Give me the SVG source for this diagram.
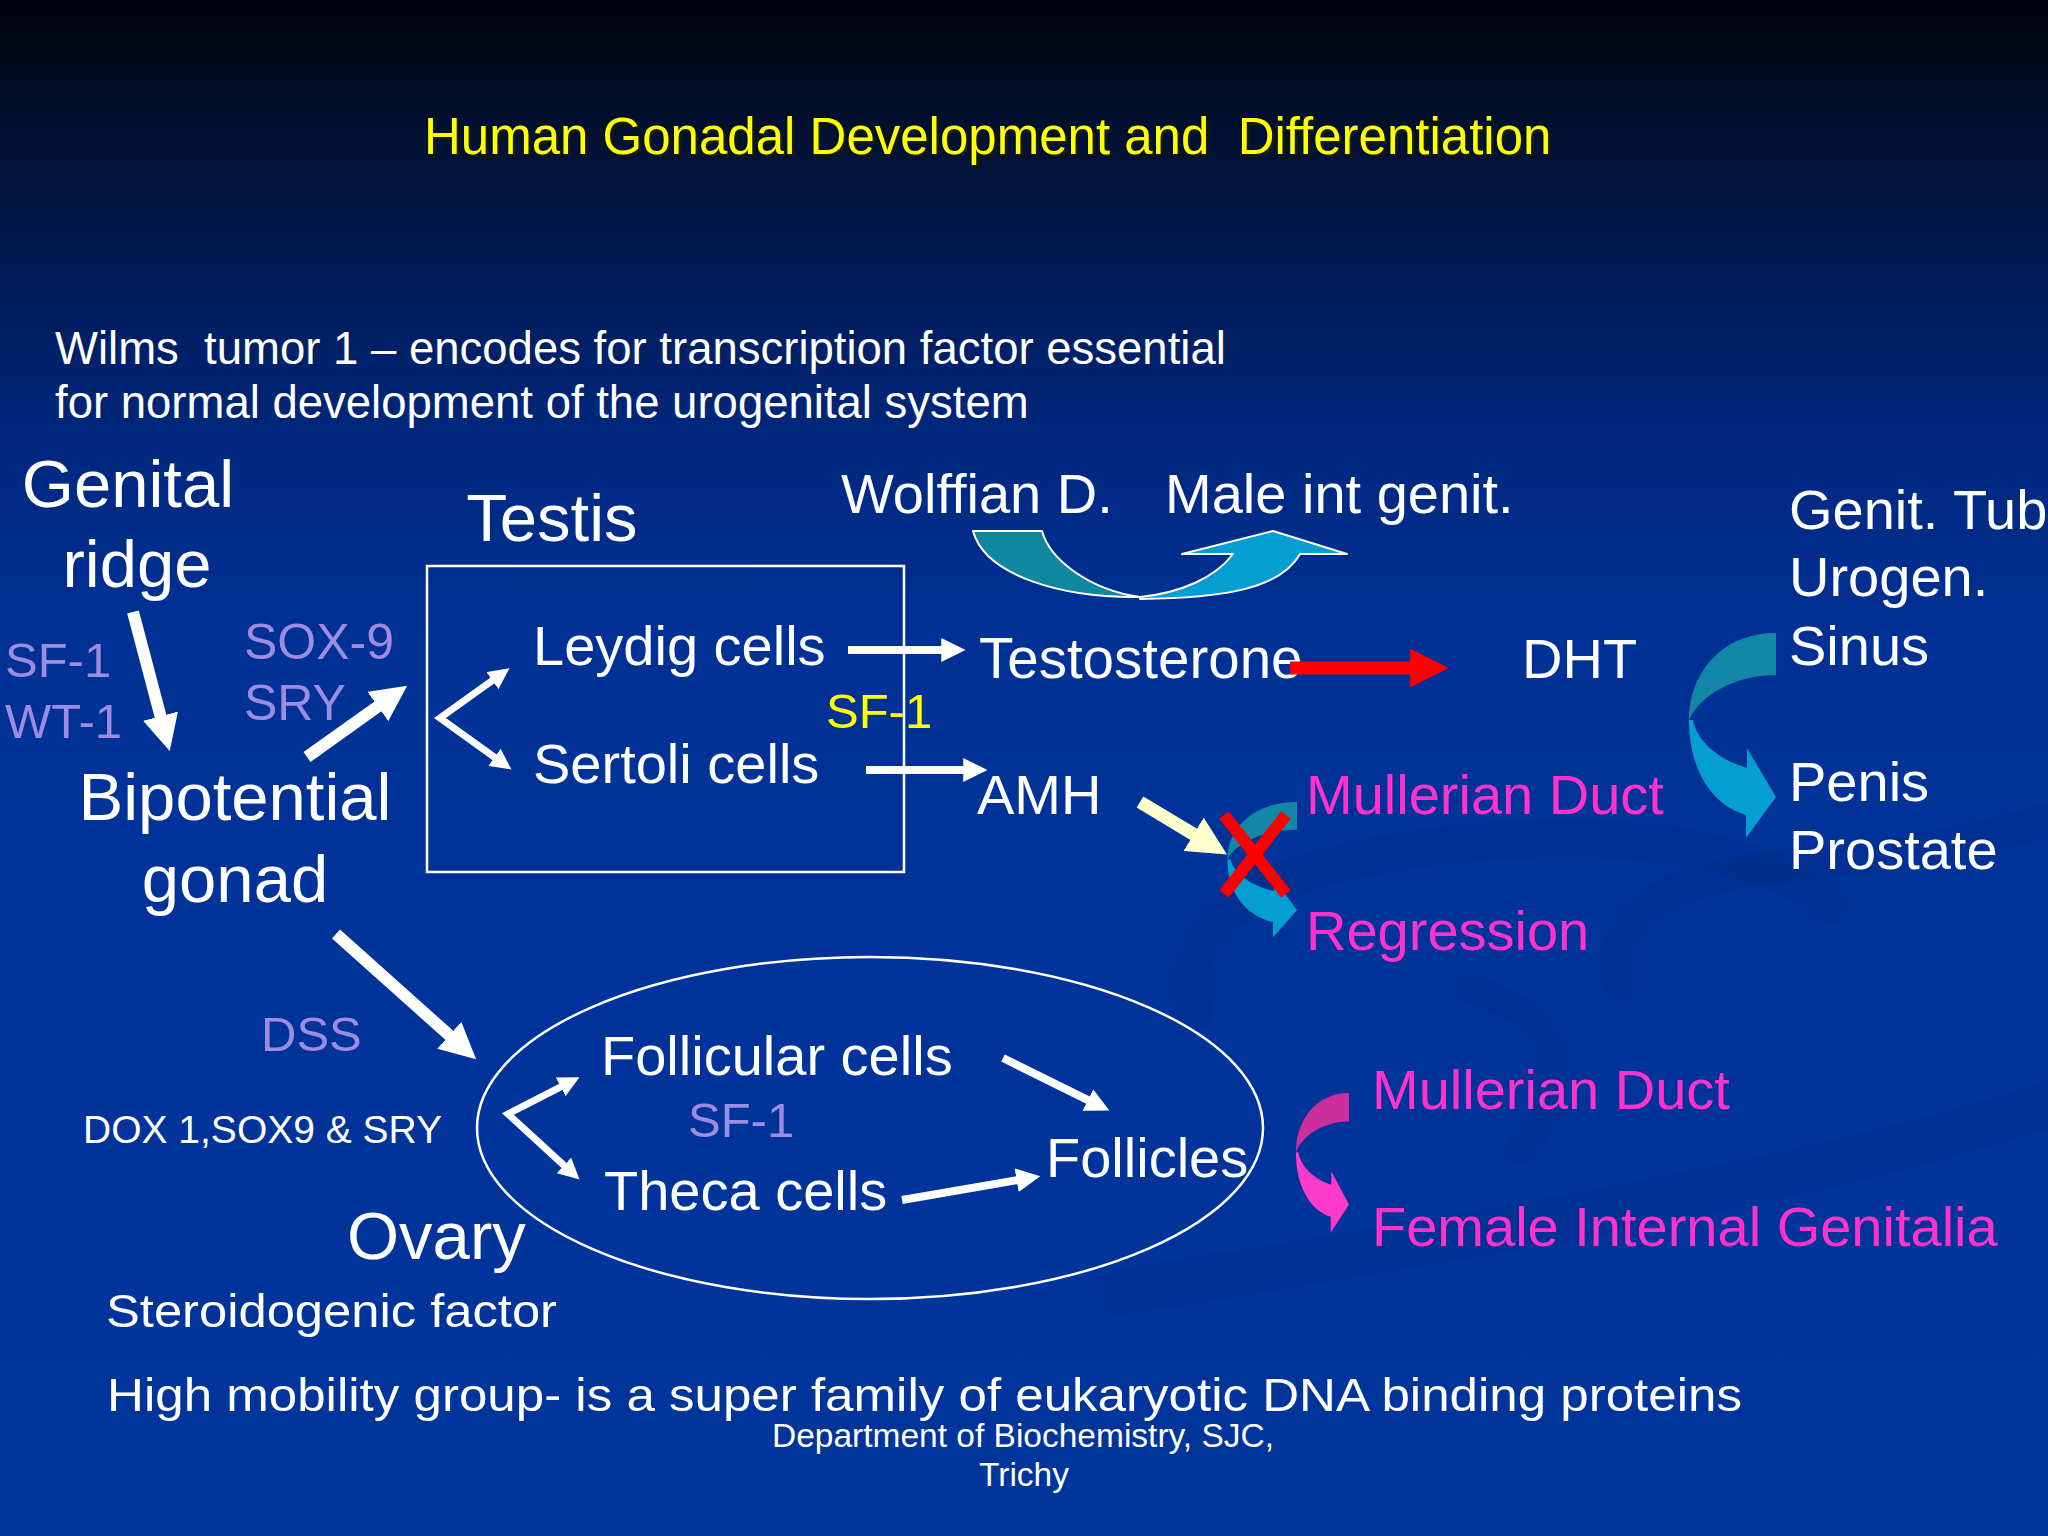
<svg xmlns="http://www.w3.org/2000/svg" width="2048" height="1536" viewBox="0 0 2048 1536">
<defs>
<linearGradient id="bg" x1="0" y1="0" x2="0" y2="1">
<stop offset="0" stop-color="#00000c"/>
<stop offset="0.03" stop-color="#000616"/>
<stop offset="0.08" stop-color="#00102e"/>
<stop offset="0.18" stop-color="#001a55"/>
<stop offset="0.28" stop-color="#00277c"/>
<stop offset="0.40" stop-color="#003094"/>
<stop offset="0.55" stop-color="#003399"/>
<stop offset="1" stop-color="#00359c"/>
</linearGradient>
<marker id="aw" viewBox="0 0 10 10" refX="0.3" refY="5" markerWidth="3" markerHeight="3" orient="auto-start-reverse" markerUnits="strokeWidth"><path d="M0,0 L10,5 L0,10 z" fill="#ffffff"/></marker>
<marker id="ar" viewBox="0 0 10 10" refX="0.3" refY="5" markerWidth="3" markerHeight="3" orient="auto" markerUnits="strokeWidth"><path d="M0,0 L10,5 L0,10 z" fill="#ff0000"/></marker>
<marker id="ay" viewBox="0 0 10 10" refX="0.3" refY="5" markerWidth="3" markerHeight="3" orient="auto" markerUnits="strokeWidth"><path d="M0,0 L10,5 L0,10 z" fill="#ffffcc"/></marker>
<g id="curvedArrow">
<path style="fill:var(--back)" d="M0,0 C-56,0 -87,42 -87,87 C-76,62 -41,42 0,42 Z"/>
<path style="fill:var(--front)" d="M-87,87 C-87,137 -64,172 -30,182 L-30,205 L0,164 L-29,115 L-29,135 C-56,127 -79,109 -83,87 Z"/>
</g>
<style>
text{font-family:"Liberation Sans",Arial,sans-serif}
.w{fill:#ffffff}
.lav{fill:#9d8ce0}
.mag{fill:#ff33cc}
.yel{fill:#ffff00}
.big{font-size:67px}
.mid{font-size:56px}
.lbl{font-size:49px}
.teal{--back:#1287a6;--front:#049fd0}
.pink{--back:#cc2e9e;--front:#ff3acb}
.sw{fill:none;stroke:#002378;stroke-linecap:round;opacity:0.16}
</style>
</defs>

<rect width="2048" height="1536" fill="url(#bg)"/>

<!-- decorative background swooshes -->
<g id="background-swooshes">
<path class="sw" stroke-width="38" d="M1195,1010 C1170,910 1280,860 1480,842 C1640,830 1760,850 1830,905"/>
<path class="sw" stroke-width="34" d="M1620,985 C1600,905 1690,872 1820,862 C1930,852 2000,835 2048,820"/>
<path class="sw" stroke-width="30" d="M1520,1150 C1580,1080 1560,1010 1470,990"/>
<path class="sw" stroke-width="46" d="M1120,1292 C1450,1240 1800,1185 2048,1105"/>
</g>

<g id="title">
<text x="427" y="157" font-size="51" fill="#1a1a00" opacity="0.8" xml:space="preserve">Human Gonadal Development and  Differentiation</text>
<text x="424" y="154" font-size="51" class="yel" xml:space="preserve">Human Gonadal Development and  Differentiation</text>
</g>

<g id="wilms-note">
<text x="55" y="364" font-size="45.5" class="w" xml:space="preserve">Wilms  tumor 1 – encodes for transcription factor essential</text>
<text x="55" y="418" font-size="45.5" class="w">for normal development of the urogenital system</text>
</g>

<g id="genital-ridge">
<text x="128" y="507" class="w big" text-anchor="middle">Genital</text>
<text x="137" y="587" class="w big" text-anchor="middle">ridge</text>
</g>

<g id="sf1-wt1">
<text x="5" y="677" class="lav lbl">SF-1</text>
<text x="5" y="738" class="lav lbl">WT-1</text>
</g>

<g id="sox9-sry">
<text x="244" y="659" class="lav" font-size="50">SOX-9</text>
<text x="244" y="720" class="lav" font-size="50">SRY</text>
</g>

<g id="bipotential-gonad">
<text x="235" y="820" class="w big" text-anchor="middle">Bipotential</text>
<text x="235" y="902" class="w big" text-anchor="middle">gonad</text>
</g>

<g id="testis">
<text x="552" y="541" class="w big" text-anchor="middle">Testis</text>
<rect x="427" y="566" width="477" height="306" fill="none" stroke="#ffffff" stroke-width="2.5"/>
<text x="533" y="665" class="w mid">Leydig cells</text>
<text x="533" y="783" class="w mid">Sertoli cells</text>
</g>

<g id="sf1-testis">
<text x="826" y="728" class="yel lbl">SF-1</text>
</g>

<g id="testosterone"><text x="979" y="678" class="w" font-size="56.5">Testosterone</text></g>
<g id="dht"><text x="1522" y="678" class="w mid">DHT</text></g>
<g id="amh"><text x="977" y="814" class="w mid">AMH</text></g>

<g id="wolffian">
<text x="841" y="513" class="w mid">Wolffian D.</text>
</g>
<g id="male-int-genit">
<text x="1165" y="513" class="w mid">Male int genit.</text>
</g>

<g id="genit-tub">
<text x="1789" y="529" class="w mid">Genit. Tub</text>
<text x="1789" y="596" class="w mid">Urogen.</text>
<text x="1789" y="665" class="w mid">Sinus</text>
</g>
<g id="penis-prostate">
<text x="1789" y="801" class="w mid">Penis</text>
<text x="1789" y="869" class="w mid">Prostate</text>
</g>

<g id="mullerian-male">
<text x="1306" y="814" class="mag mid">Mullerian Duct</text>
</g>
<g id="regression">
<text x="1306" y="950" class="mag mid">Regression</text>
</g>

<g id="ovary">
<ellipse cx="870" cy="1128" rx="393" ry="171" fill="none" stroke="#ffffff" stroke-width="2.5"/>
<text x="601" y="1075" class="w mid">Follicular cells</text>
<text x="688" y="1137" class="lav lbl">SF-1</text>
<text x="604" y="1210" class="w mid">Theca cells</text>
<text x="1046" y="1177" class="w mid">Follicles</text>
<text x="347" y="1259" class="w big">Ovary</text>
</g>

<g id="dss"><text x="261" y="1051" class="lav lbl">DSS</text></g>
<g id="dox"><text x="83" y="1143" class="w" font-size="39">DOX 1,SOX9 &amp; SRY</text></g>

<g id="mullerian-female">
<text x="1372" y="1109" class="mag mid">Mullerian Duct</text>
<text x="1372" y="1246" class="mag mid">Female Internal Genitalia</text>
</g>

<g id="notes">
<text x="106" y="1327" class="w" font-size="46" textLength="451" lengthAdjust="spacingAndGlyphs">Steroidogenic factor</text>
<text x="107" y="1411" class="w" font-size="46" textLength="1635" lengthAdjust="spacingAndGlyphs">High mobility group- is a super family of eukaryotic DNA binding proteins</text>
</g>

<g id="footer">
<text x="1023" y="1447" class="w" font-size="33.5" text-anchor="middle">Department of Biochemistry, SJC,</text>
<text x="1024" y="1486" class="w" font-size="33.5" text-anchor="middle">Trichy</text>
</g>

<g id="connectors">
<line x1="133" y1="612" x2="160.8" y2="717.2" stroke="#ffffff" stroke-width="12" marker-end="url(#aw)"/>
<line x1="307" y1="757" x2="378.7" y2="705.9" stroke="#ffffff" stroke-width="12" marker-end="url(#aw)"/>
<path d="M492.9,680.2 L440,718 L495,757.7" fill="none" stroke="#ffffff" stroke-width="7" stroke-linejoin="miter" marker-start="url(#aw)" marker-end="url(#aw)"/>
<line x1="848" y1="650" x2="942" y2="650" stroke="#ffffff" stroke-width="8" marker-end="url(#aw)"/>
<line x1="866" y1="770" x2="964" y2="770" stroke="#ffffff" stroke-width="8" marker-end="url(#aw)"/>
<line x1="1290" y1="668" x2="1411" y2="668" stroke="#ff0000" stroke-width="13" marker-end="url(#ar)"/>
<line x1="1140" y1="802" x2="1194.6" y2="834.9" stroke="#ffffcc" stroke-width="13" marker-end="url(#ay)"/>
<line x1="336" y1="934" x2="450.1" y2="1036" stroke="#ffffff" stroke-width="12" marker-end="url(#aw)"/>
<path d="M561.3,1086.6 L508,1114 L564.5,1165.8" fill="none" stroke="#ffffff" stroke-width="7" marker-start="url(#aw)" marker-end="url(#aw)"/>
<line x1="1003" y1="1058" x2="1088.5" y2="1100.3" stroke="#ffffff" stroke-width="8" marker-end="url(#aw)"/>
<line x1="902" y1="1200" x2="1017.3" y2="1180.1" stroke="#ffffff" stroke-width="8" marker-end="url(#aw)"/>

<!-- Wolffian duct curved arrow -->
<g stroke="#ffffff" stroke-width="2" stroke-linejoin="round">
<path d="M973,531 L1042,531 C1050,560 1090,590 1140,597 C1060,598 985,575 973,531 Z" fill="#0e879f"/>
<path d="M1140,599 C1220,598 1280,590 1300,554 L1347,554 L1273,531 L1182,554 L1233,554 C1215,578 1180,593 1140,597 Z" fill="#049fd0"/>
</g>
<!-- Urogenital sinus curved arrow -->
<use href="#curvedArrow" class="teal" transform="translate(1776,633)"/>
<!-- Mullerian regression curved arrow, blocked -->
<use href="#curvedArrow" class="teal" transform="translate(1297,802) scale(0.8,0.66)"/>
<g stroke="#ff0000" stroke-width="12">
<line x1="1224" y1="815" x2="1286" y2="894"/>
<line x1="1286" y1="815" x2="1224" y2="894"/>
</g>
<!-- female Mullerian curved arrow -->
<use href="#curvedArrow" class="pink" transform="translate(1349,1093) scale(0.61,0.68)"/>
</g>
</svg>
